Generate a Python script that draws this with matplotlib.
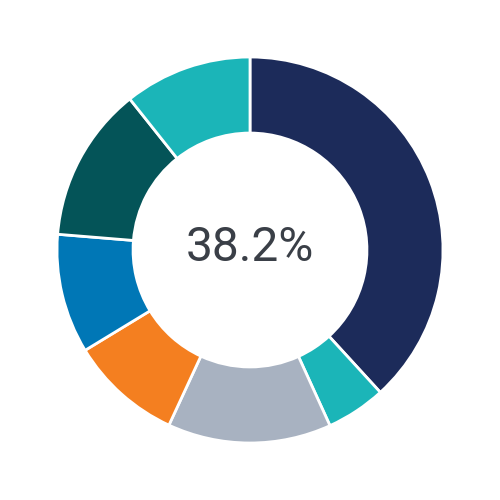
import matplotlib.pyplot as plt

shares = [38.2, 5.0, 13.7, 9.4, 10.0, 13.0, 10.7]
colors = ["#1c2b5a", "#1bb5b8", "#a8b2c1", "#f47f20", "#0077b6", "#045458", "#1bb5b8"]
center_label = "38.2%"

fig = plt.figure(figsize=(5, 5), dpi=100)
ax = fig.add_axes([0, 0, 1, 1])
ax.pie(shares, colors=colors, startangle=90, counterclock=False, radius=1,
       wedgeprops=dict(width=0.394, edgecolor="white", linewidth=2))
ax.text(0, 0.01, center_label, ha="center", va="center", fontsize=34.5,
        color="#3a3f47", family=["Roboto", "DejaVu Sans"])
lim = 250 / 193
ax.set_xlim(-lim, lim)
ax.set_ylim(-lim, lim)
ax.set_aspect("equal")
ax.axis("off")
fig.savefig("out.png", dpi=100, facecolor="white")
